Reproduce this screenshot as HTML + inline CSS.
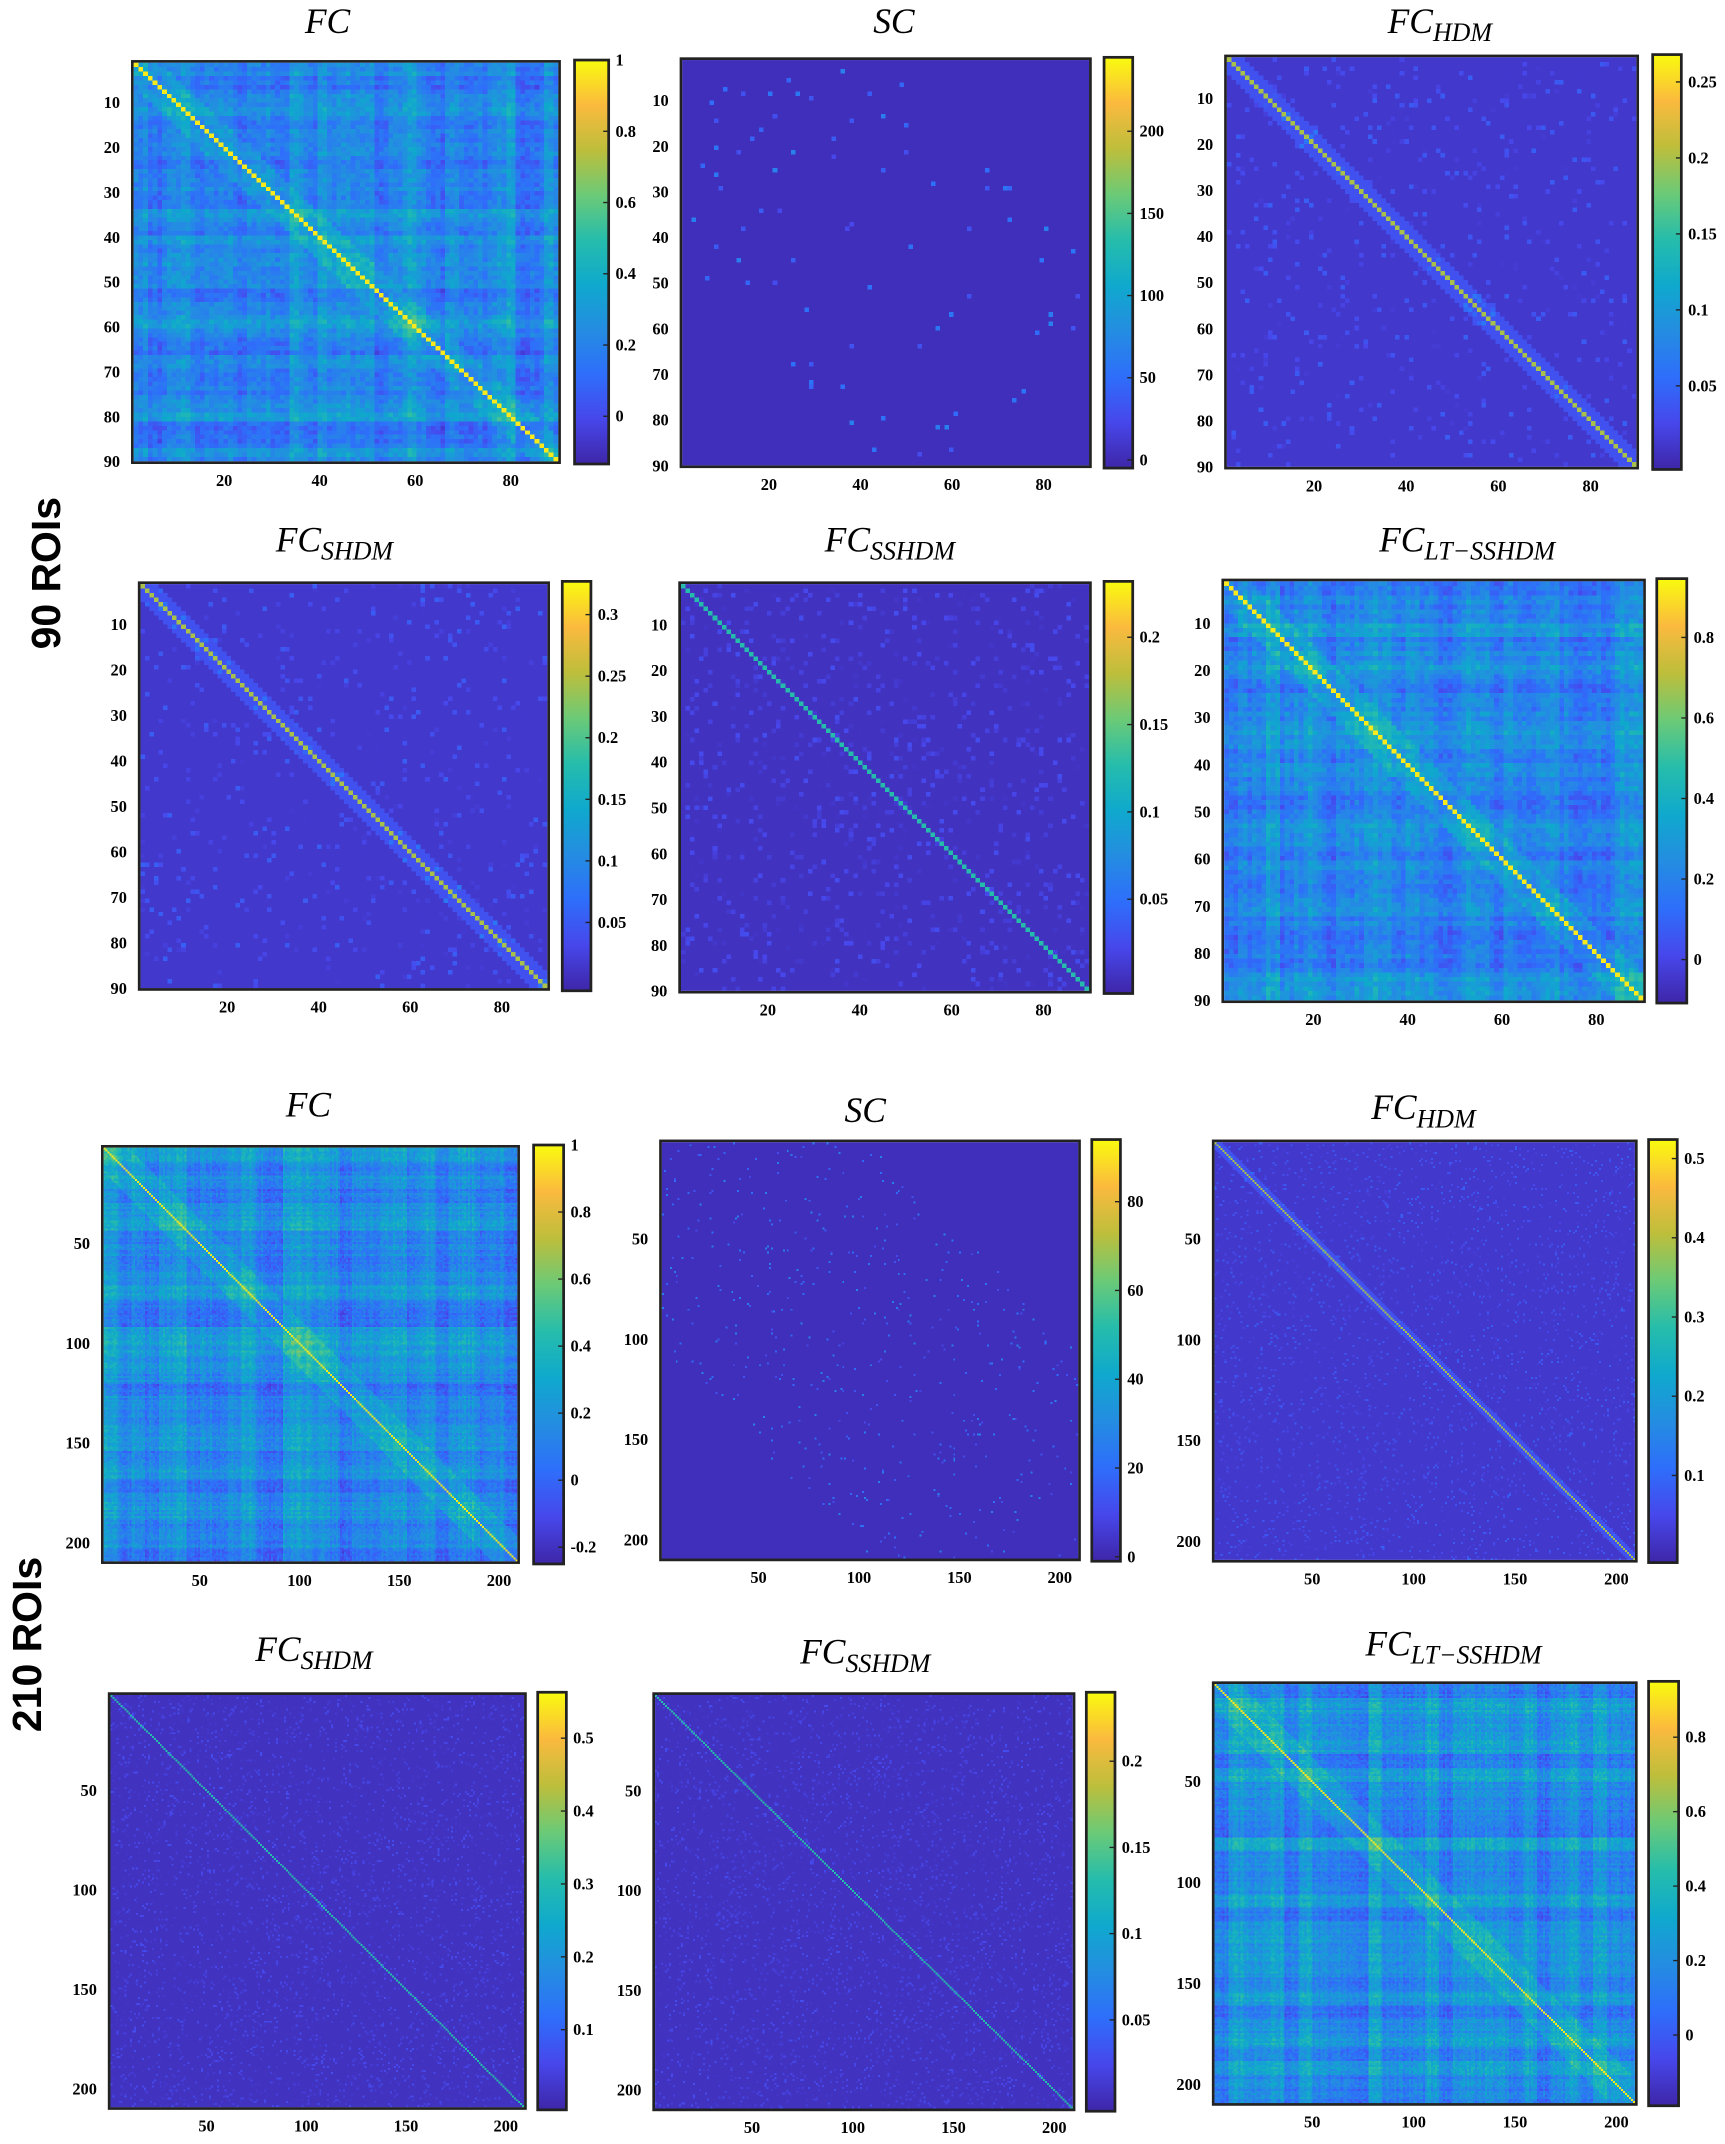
<!DOCTYPE html>
<html><head><meta charset="utf-8">
<style>
html,body{margin:0;padding:0;background:#fff;}
#wrap{position:relative;width:1264px;height:1571px;transform:scale(1.36472);transform-origin:0 0;}
canvas{position:absolute;image-rendering:pixelated;box-sizing:border-box;border:2px solid #222;}
svg{position:absolute;left:0;top:0;}
</style></head>
<body>
<div id="wrap">
<svg id="ov" width="1264" height="1571" viewBox="0 0 1264 1571" font-family="Liberation Serif, serif"></svg>
</div>
<script>
const wrap=document.getElementById('wrap');const ov=document.getElementById('ov');
const NS='http://www.w3.org/2000/svg';
const P=[[0.2422,0.1504,0.6603],[0.2803,0.2782,0.9221],[0.1801,0.4325,0.9826],[0.1398,0.5533,0.8841],[0.0589,0.6617,0.8032],[0.1496,0.7414,0.6689],[0.4237,0.7916,0.4638],[0.7446,0.7468,0.2305],[0.9856,0.7289,0.2414],[0.9763,0.9831,0.0538]];
function par(t){t=Math.max(0,Math.min(1,t));const x=t*(P.length-1),i=Math.min(P.length-2,Math.floor(x)),f=x-i;return P[i].map((c,k)=>Math.round(255*(c+(P[i+1][k]-c)*f)));}
function hash(a,b,s){let h=(a*374761393+b*668265263+s*2246822519)|0;h=(h^(h>>>13))*1274126177|0;h=h^(h>>>16);return ((h>>>0)%10000)/10000;}
function el(n,a,t){const e=document.createElementNS(NS,n);for(const k in a)e.setAttribute(k,a[k]);if(t!==undefined)e.textContent=t;ov.appendChild(e);return e;}
function panel(o){
 const {x0,y0,x1,y1,n,type,seed}=o;
 const c=document.createElement('canvas');c.width=n;c.height=n;
 c.style.left=x0+'px';c.style.top=y0+'px';c.style.width=(x1-x0)+'px';c.style.height=(y1-y0)+'px';
 wrap.insertBefore(c,ov);const g=c.getContext('2d');const im=g.createImageData(n,n);
 const a=[];for(let i=0;i<n;i++){a.push((hash(Math.floor(i/ (n/30)),7,seed)-0.5)*0.16+(hash(i,3,seed)-0.5)*0.08);}
 for(let i=0;i<n;i++)for(let j=0;j<n;j++){
  const p=Math.min(i,j),q=Math.max(i,j);const r=hash(p,q,seed);let t;
  if(type=='fc'){t=0.33+a[i]+a[j]+(r-0.5)*0.12;if(q-p<n*0.06)t+=0.1;if(i==j)t=0.97;}
  else if(type=='sc'){t=0.03;if(r>0.985&&q-p<n*0.5)t=0.1+hash(q,p,seed)*0.2;if(i==j)t=0.03;}
  else if(type=='hdm'){t=0.06+(r>0.93?0.12*hash(q,p,seed):0)+(q-p<4&&i!=j?0.08:0);if(i==j)t=0.75;}
  else {t=0.04+(r>0.9?0.09*hash(q,p,seed):0);if(i==j)t=0.55;}
  const col=par(t);const k=(i*n+j)*4;im.data[k]=col[0];im.data[k+1]=col[1];im.data[k+2]=col[2];im.data[k+3]=255;}
 g.putImageData(im,0,0);
 const ticks=n==90?[10,20,30,40,50,60,70,80,90]:[50,100,150,200];
 const xt=n==90?[20,40,60,80]:[50,100,150,200];
 ticks.forEach(v=>{el('text',{x:x0-8,y:y0+(v-0.5)/n*(y1-y0)+4,'text-anchor':'end','font-size':12,'font-weight':'bold'},v);});
 xt.forEach(v=>{el('text',{x:x0+(v-0.5)/n*(x1-x0),y:y1+16,'text-anchor':'middle','font-size':12,'font-weight':'bold'},v);});
 const {cx,cw,min,max,cb}=o;const ct=y0,cbt=y1;
 const id='g'+seed;
 const d=el('linearGradient',{id:id,x1:0,y1:1,x2:0,y2:0});
 for(let s=0;s<=9;s++){const col=par(s/9);const st=document.createElementNS(NS,'stop');st.setAttribute('offset',s/9);st.setAttribute('stop-color','rgb('+col+')');d.appendChild(st);}
 el('rect',{x:cx,y:ct,width:cw,height:cbt-ct,fill:'url(#'+id+')',stroke:'#222','stroke-width':2});
 cb.forEach(v=>{const yy=cbt-(v-min)/(max-min)*(cbt-ct);el('line',{x1:cx+cw-4,x2:cx+cw,y1:yy,y2:yy,stroke:'#222'});el('text',{x:cx+cw+5,y:yy+4,'font-size':12,'font-weight':'bold'},v);});
 const t=el('text',{x:o.tx,y:o.ty,'text-anchor':'middle','font-size':26,'font-style':'italic'});
 const t1=document.createElementNS(NS,'tspan');t1.textContent=o.t1;t.appendChild(t1);
 if(o.t2){const t2=document.createElementNS(NS,'tspan');t2.textContent=o.t2;t2.setAttribute('font-size',19);t2.setAttribute('dy',6);t.appendChild(t2);}
}
const R=[
{x0:96,y0:44,x1:411,y1:340,n:90,type:'fc',cx:421,cw:25,min:-0.134,max:1,cb:[0,0.2,0.4,0.6,0.8,1],t1:'FC',tx:240,ty:24},
{x0:498,y0:42,x1:800,y1:343,n:90,type:'sc',cx:809,cw:21,min:-5,max:245,cb:[0,50,100,150,200],t1:'SC',tx:655,ty:24},
{x0:897,y0:40,x1:1201,y1:344,n:90,type:'hdm',cx:1211,cw:21,min:-0.005,max:0.268,cb:[0.05,0.1,0.15,0.2,0.25],t1:'FC',t2:'HDM',tx:1055,ty:24},
{x0:101,y0:426,x1:403,y1:726,n:90,type:'hdm',cx:412,cw:21,min:-0.0055,max:0.327,cb:[0.05,0.1,0.15,0.2,0.25,0.3],t1:'FC',t2:'SHDM',tx:245,ty:404},
{x0:497,y0:426,x1:800,y1:728,n:90,type:'ss',cx:809,cw:21,min:-0.004,max:0.232,cb:[0.05,0.1,0.15,0.2],t1:'FC',t2:'SSHDM',tx:652,ty:404},
{x0:895,y0:424,x1:1206,y1:735,n:90,type:'fc',cx:1214,cw:22,min:-0.108,max:0.946,cb:[0,0.2,0.4,0.6,0.8],t1:'FC',t2:'LT\u2212SSHDM',tx:1075,ty:404},
{x0:74,y0:839,x1:381,y1:1146,n:210,type:'fc',cx:391,cw:22,min:-0.25,max:1.0,cb:[-0.2,0,0.2,0.4,0.6,0.8,1],t1:'FC',tx:226,ty:818},
{x0:483,y0:835,x1:792,y1:1144,n:210,type:'sc',cx:800,cw:21,min:-1,max:94,cb:[0,20,40,60,80],t1:'SC',tx:634,ty:822},
{x0:888,y0:835,x1:1200,y1:1145,n:210,type:'hdm',cx:1208,cw:21,min:-0.01,max:0.524,cb:[0.1,0.2,0.3,0.4,0.5],t1:'FC',t2:'HDM',tx:1043,ty:820},
{x0:79,y0:1240,x1:386,y1:1546,n:210,type:'ss',cx:394,cw:21,min:-0.01,max:0.563,cb:[0.1,0.2,0.3,0.4,0.5],t1:'FC',t2:'SHDM',tx:230,ty:1217},
{x0:478,y0:1240,x1:788,y1:1547,n:210,type:'ss',cx:796,cw:21,min:-0.003,max:0.24,cb:[0.05,0.1,0.15,0.2],t1:'FC',t2:'SSHDM',tx:634,ty:1219},
{x0:888,y0:1232,x1:1200,y1:1543,n:210,type:'fc',cx:1208,cw:22,min:-0.19,max:0.95,cb:[0,0.2,0.4,0.6,0.8],t1:'FC',t2:'LT\u2212SSHDM',tx:1065,ty:1213}
];
R.forEach((o,i)=>{o.seed=i+1;panel(o);});
el('text',{x:0,y:0,transform:'translate(44,420) rotate(-90)','text-anchor':'middle','font-size':30,'font-weight':'bold','font-family':'Liberation Sans, sans-serif'},'90 ROIs');
el('text',{x:0,y:0,transform:'translate(30,1205) rotate(-90)','text-anchor':'middle','font-size':30,'font-weight':'bold','font-family':'Liberation Sans, sans-serif'},'210 ROIs');
</script>
</body></html>
